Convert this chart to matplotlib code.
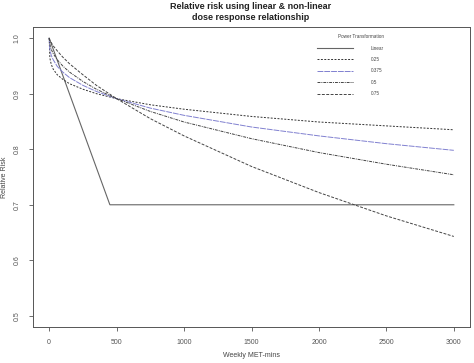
import matplotlib
matplotlib.use('Agg')
import matplotlib.pyplot as plt

plt.rcParams['font.family'] = ['Liberation Sans', 'DejaVu Sans']

# readings (weekly MET-mins vs relative risk)
lin_x = [0, 450, 3000]
lin_rr = [1.0, 0.7, 0.7]

x = [0, 5, 15, 30, 60, 100, 150, 250, 350, 500, 750, 1000, 1500, 2000, 2500, 3000]
rr_025 = [1.0, 0.964, 0.953, 0.944, 0.934, 0.926, 0.918, 0.908, 0.900, 0.891,
          0.880, 0.872, 0.859, 0.849, 0.842, 0.835]
rr_0375 = [1.0, 0.980, 0.969, 0.961, 0.949, 0.939, 0.929, 0.915, 0.904, 0.891,
           0.874, 0.861, 0.840, 0.824, 0.810, 0.798]
rr_05 = [1.0, 0.989, 0.980, 0.972, 0.961, 0.950, 0.939, 0.922, 0.908, 0.891,
         0.868, 0.849, 0.819, 0.794, 0.773, 0.754]
rr_075 = [1.0, 0.996, 0.992, 0.986, 0.977, 0.966, 0.954, 0.934, 0.915, 0.891,
          0.855, 0.824, 0.769, 0.722, 0.680, 0.643]

fig = plt.figure(figsize=(4.74, 3.63), dpi=100)
ax = fig.add_axes([33 / 474, 36 / 363, (470 - 33) / 474, (327 - 27) / 363])

ax.plot(lin_x, lin_rr, color='#666666', lw=0.8, label='Linear')
ax.plot(x, rr_025, color='#333333', lw=0.7, ls=(0, (2, 1.5)), label='0.25')
ax.plot(x, rr_0375, color='#8080d0', lw=0.7, ls=(0, (6, 1)), label='0.375')
ax.plot(x, rr_05, color='#444444', lw=0.7, ls=(0, (3, 1, 1, 1)), label='0.5')
ax.plot(x, rr_075, color='#444444', lw=0.7, ls=(0, (3, 1.5)), label='0.75')

ax.set_xlim(-120, 3120)
ax.set_ylim(0.48, 1.02)
ax.set_xticks([0, 500, 1000, 1500, 2000, 2500, 3000])
ax.set_yticks([0.5, 0.6, 0.7, 0.8, 0.9, 1.0])
ax.set_yticklabels(['0.5', '0.6', '0.7', '0.8', '0.9', '1.0'], rotation=90, va='center')
ax.tick_params(labelsize=5, labelcolor='#555555', length=3, width=0.6, color='#555555', pad=6)
for s in ax.spines.values():
    s.set_linewidth(0.7)
    s.set_color('#555555')

ax.set_xlabel('Weekly MET-mins', fontsize=5, color='#444444', labelpad=4)
ax.set_ylabel('Relative Risk', fontsize=5, color='#444444', labelpad=4)
fig.suptitle('Relative risk using linear & non-linear\ndose response relationship',
             x=251 / 474, y=0.995, fontsize=6.5, fontweight='bold', color='#222222',
             linespacing=1.35)

leg = ax.legend(title='Power Transformation', loc='upper left', bbox_to_anchor=(0.64, 0.99),
                frameon=False, fontsize=3.3, title_fontsize=3.3, handlelength=8,
                handletextpad=3.7, labelspacing=1.4, alignment='right')
for t in leg.get_texts():
    t.set_color('#444444')
leg.get_title().set_color('#444444')

fig.savefig('out.png', dpi=100)
